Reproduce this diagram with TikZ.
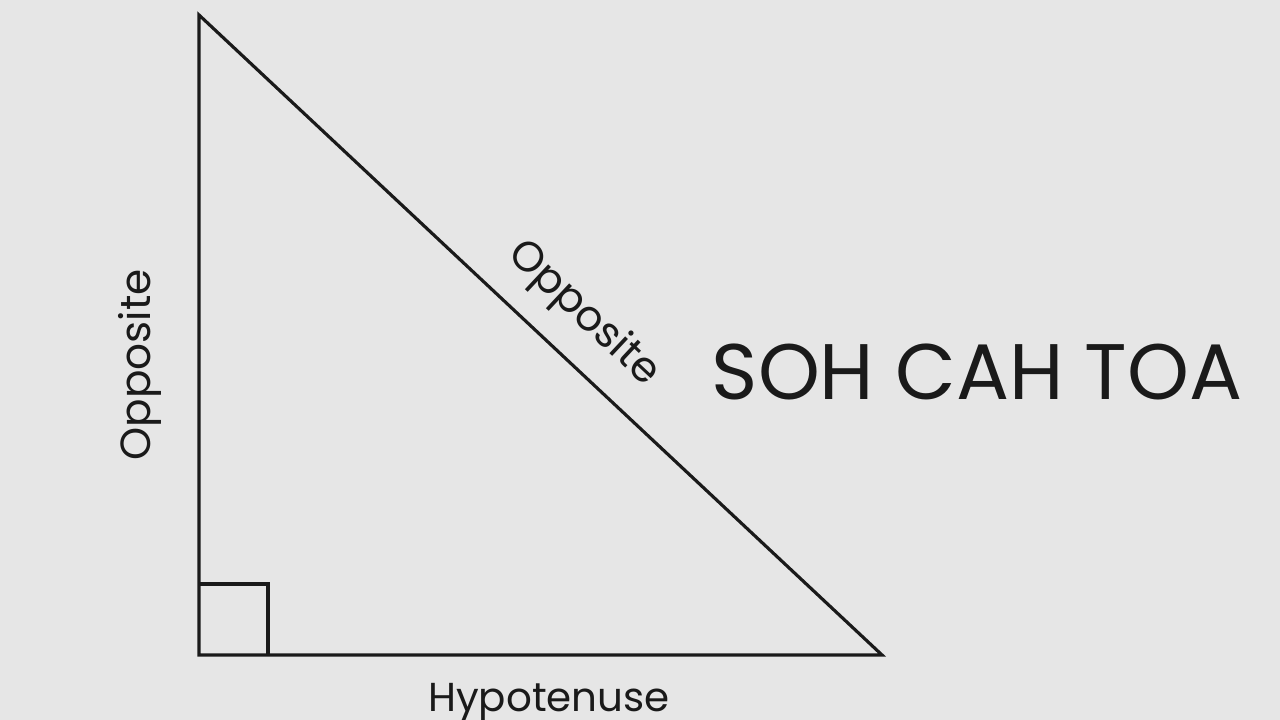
\documentclass[tikz,border=0pt]{standalone}
\usepackage{fontspec}
\setmainfont{Poppins}
\definecolor{bg}{HTML}{E6E6E6}
\definecolor{ink}{HTML}{1A1A1A}
\tikzset{
  edge/.style={draw=ink, line width=0.9pt, line join=miter},
  lbl/.style={text=ink, inner sep=0pt, font=\fontsize{12pt}{14pt}\selectfont},
  big/.style={text=ink, inner sep=0pt, font=\fontsize{22.4pt}{26pt}\selectfont}
}
\begin{document}
\begin{tikzpicture}
\useasboundingbox (0,0) rectangle (12.8,7.2);
\fill[bg] (0,0) rectangle (12.8,7.2);
\coordinate (A) at (1.99,7.05);
\coordinate (B) at (1.99,0.65);
\coordinate (C) at (8.82,0.65);
\draw[edge] (A) -- (B) -- (C) -- cycle;
\coordinate (S1) at (2.68,0.65);
\coordinate (S2) at (2.68,1.36);
\coordinate (S3) at (1.99,1.36);
\draw[edge] (S1) -- (S2) -- (S3);
\node[lbl, rotate=90, anchor=base] (opl) at (1.50,3.55) {Opposite};
\node[lbl, rotate=-43.1] (opd) at (5.83,4.06) {Opposite};
\node[lbl, anchor=base, font=\fontsize{11.5pt}{14pt}\selectfont] (hyp) at (5.49,0.08) {Hypotenuse};
\node[big, anchor=base] (soh) at (9.77,3.20) {SOH CAH TOA};
\end{tikzpicture}
\end{document}
